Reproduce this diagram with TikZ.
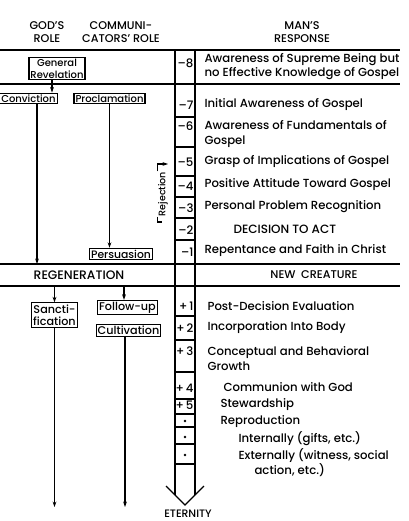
\documentclass[tikz,border=0pt]{standalone}
\usepackage{fontspec}
\setmainfont{Poppins Medium}
\usetikzlibrary{arrows.meta}

\tikzset{
  rolebox/.style={draw, line width=1.1pt, inner sep=1.5pt, align=center},
  resp/.style={anchor=west, align=left, inner sep=0pt},
  num/.style={anchor=east, inner sep=0pt},
  arr/.style={-{Stealth[length=5.5pt,width=3.8pt]}},
}

\begin{document}
\begin{tikzpicture}[x=1pt, y=-1pt, line width=1.1pt, font=\fontsize{11.7}{11.6}\selectfont]
            \useasboundingbox (0,0) rectangle (408,521);
            % headings
            \node[align=center, font=\fontsize{11.2}{11.6}\selectfont] at (47,32) {GOD'S\\[2pt]ROLE};
            \node[align=center, font=\fontsize{11.2}{11.6}\selectfont] at (121,32) {COMMUNI-\\[2pt]CATORS' ROLE};
            \node[align=center, font=\fontsize{11.2}{11.6}\selectfont] at (302,32) {MAN'S\\[2pt]RESPONSE};
            % horizontal lines
            \coordinate (l1) at (0,50);
            \coordinate (l2) at (0,84);
            \coordinate (l3) at (0,264);
            \coordinate (l4) at (0,286);
            \coordinate (bot) at (0,507);
            \foreach \y in {50,84,264,286}
                \draw (0,\y) -- (400,\y);
            % the scale column
            \draw (175,50) -- (175,495);
            \draw (195,50) -- (195,495);
            \draw (166,486) -- (185,505) -- (204,486);
            \foreach \y in {117,147,176,197,218,240,316,340,372,399,414,427,444,464}
                \draw (175,\y) -- (195,\y);
            \foreach \lab/\y in {--8/63,--7/105,--6/126,--5/162,--4/186,--3/208,--2/230,--1/252,
                                 +\,1/306,+\,2/328,+\,3/351,+\,4/388,+\,5/405}
                \node[num] at (194,\y) {\lab};
            \foreach \y in {421,437,455}
                \fill (185,\y) circle (1.3pt);
            \node[font=\fontsize{10.8}{12}\selectfont] (eternity) at (188,514) {ETERNITY};
            % rejection
            \node[rotate=90, inner sep=0pt, font=\fontsize{9.5}{10}\selectfont] (rej) at (163,194) {Rejection};
            \coordinate (rejtip) at (168,164);
            \coordinate (rejend) at (162,222);
            \draw[arr] (rej.north east) |- (rejtip);
            \draw (rej.north west) |- (rejend);
            % roles before the decision
            \begin{scope}[font=\fontsize{10}{12}\selectfont]
            \node[rolebox] (genrev) at (57,68.5) {General\\Revelation};
            \node[rolebox] (conv) at (28.5,98.5) {Conviction};
            \node[rolebox] (procl) at (109.5,98.5) {Proclamation};
            \end{scope}
            \node[rolebox, font=\fontsize{10.8}{12}\selectfont] (pers) at (121,254) {Persuasion};
            \draw[arr] ([xshift=-5pt]genrev.south) -- ([xshift=-5pt]genrev.south |- conv.north);
            \draw[arr] ([xshift=8.5pt]conv.south) -- ([xshift=8.5pt]conv.south |- l3);
            \draw[arr] (procl.south) -- (procl.south |- pers.north);
            % regeneration
            \node[font=\fontsize{12.3}{13}\selectfont] at (79,275) {REGENERATION};
            \node[font=\fontsize{11.2}{13}\selectfont] at (314,275) {NEW\enspace CREATURE};
            % roles after the decision
            \begin{scope}[font=\fontsize{11.2}{12.5}\selectfont]
            \node[rolebox] (sanct) at (54.5,315) {Sancti-\\fication};
            \node[rolebox] (follow) at (127.5,307.5) {Follow-up};
            \node[rolebox] (cult) at (128.5,330.5) {Cultivation};
            \end{scope}
            \draw[arr] (sanct.north |- l4) -- (sanct.north);
            \draw[arr] ([xshift=-3.5pt]follow.north |- l4) -- ([xshift=-3.5pt]follow.north);
            \draw[arr] (sanct.south) -- (sanct.south |- bot);
            \draw[arr] ([xshift=-3.5pt]cult.south) -- ([xshift=-3.5pt]cult.south |- bot);
            % man's response
            \node[resp] at (204,66.5) {Awareness of Supreme Being but\\no Effective Knowledge of Gospel};
            \node[resp] at (204,105) {Initial Awareness of Gospel};
            \node[resp] at (204,134) {Awareness of Fundamentals of\\[4pt]Gospel};
            \node[resp] at (204,162) {Grasp of Implications of Gospel};
            \node[resp] at (204,185) {Positive Attitude Toward Gospel};
            \node[resp] at (204,207) {Personal Problem Recognition};
            \node[resp, font=\fontsize{12}{13}\selectfont] at (233,229) {DECISION TO ACT};
            \node[resp] at (204,251) {Repentance and Faith in Christ};
            \node[resp] at (207,306) {Post-Decision Evaluation};
            \node[resp] at (207,328) {Incorporation Into Body};
            \node[resp] at (207,358.5) {Conceptual and Behavioral\\[3pt]Growth};
            \node[resp] at (223,387) {Communion with God};
            \node[resp] at (220,405) {Stewardship};
            \node[resp] at (220,422) {Reproduction};
            \node[resp] at (238,439) {Internally (gifts, etc.)};
            \node[resp] at (238,456) {Externally (witness, social};
            \node[resp] at (254,470) {action, etc.)};
        \end{tikzpicture}
\end{document}
